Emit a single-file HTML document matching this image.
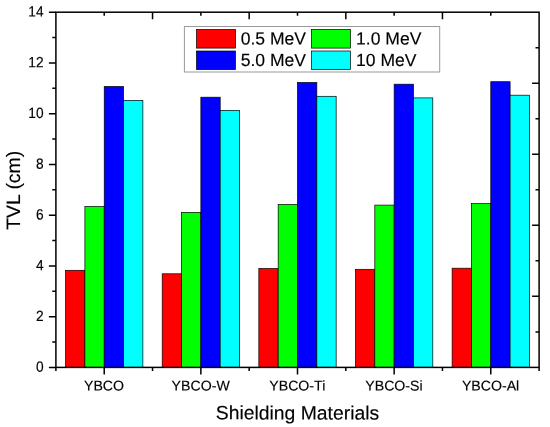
<!DOCTYPE html>
<html><head><meta charset="utf-8"><title>TVL chart</title>
<style>
html,body{margin:0;padding:0;background:#fff;}
svg{display:block;}
text{text-rendering:geometricPrecision;font-family:"Liberation Sans",Arial,sans-serif;fill:#000;stroke:#000;stroke-width:0.15px;}
.tk{font-size:13.7px;}
.ti{font-size:19px;}
.lg{font-size:17.55px;}
.tx{font-size:14.15px;}
.ty{font-size:19.35px;}
</style></head><body>
<svg width="550" height="427" viewBox="0 0 550 427">
<rect width="550" height="427" fill="#fff"/>
<g stroke="#000" stroke-width="0.7">
<rect x="65.56" y="270.30" width="19.33" height="97.10" fill="#ff0000"/>
<rect x="84.89" y="206.50" width="19.33" height="160.90" fill="#00ff00"/>
<rect x="104.22" y="86.50" width="19.33" height="280.90" fill="#0000ff"/>
<rect x="123.55" y="100.40" width="19.33" height="267.00" fill="#00ffff"/>
<rect x="162.20" y="273.80" width="19.33" height="93.60" fill="#ff0000"/>
<rect x="181.53" y="212.40" width="19.33" height="155.00" fill="#00ff00"/>
<rect x="200.86" y="97.20" width="19.33" height="270.20" fill="#0000ff"/>
<rect x="220.19" y="110.40" width="19.33" height="257.00" fill="#00ffff"/>
<rect x="258.84" y="268.50" width="19.33" height="98.90" fill="#ff0000"/>
<rect x="278.17" y="204.40" width="19.33" height="163.00" fill="#00ff00"/>
<rect x="297.50" y="82.50" width="19.33" height="284.90" fill="#0000ff"/>
<rect x="316.83" y="96.30" width="19.33" height="271.10" fill="#00ffff"/>
<rect x="355.48" y="269.30" width="19.33" height="98.10" fill="#ff0000"/>
<rect x="374.81" y="205.10" width="19.33" height="162.30" fill="#00ff00"/>
<rect x="394.14" y="84.20" width="19.33" height="283.20" fill="#0000ff"/>
<rect x="413.47" y="97.90" width="19.33" height="269.50" fill="#00ffff"/>
<rect x="452.12" y="268.20" width="19.33" height="99.20" fill="#ff0000"/>
<rect x="471.45" y="203.60" width="19.33" height="163.80" fill="#00ff00"/>
<rect x="490.78" y="81.70" width="19.33" height="285.70" fill="#0000ff"/>
<rect x="510.11" y="95.20" width="19.33" height="272.20" fill="#00ffff"/>
</g>
<g stroke="#000" stroke-width="1.5" fill="none" stroke-linecap="butt">
<rect x="55.9" y="12.2" width="483.20" height="355.20"/>
<path d="M55.90 367.40h-7 M55.90 342.03h-3.6 M55.90 316.66h-7 M55.90 291.29h-3.6 M55.90 265.91h-7 M55.90 240.54h-3.6 M55.90 215.17h-7 M55.90 189.80h-3.6 M55.90 164.43h-7 M55.90 139.06h-3.6 M55.90 113.69h-7 M55.90 88.31h-3.6 M55.90 62.94h-7 M55.90 37.57h-3.6 M55.90 12.20h-7 M539.10 331.88h-3.6 M539.10 296.36h-7 M539.10 260.84h-3.6 M539.10 225.32h-7 M539.10 189.80h-3.6 M539.10 154.28h-7 M539.10 118.76h-3.6 M539.10 83.24h-7 M539.10 47.72h-3.6 M55.90 367.40v3.6 M104.22 367.40v7 M152.54 367.40v3.6 M200.86 367.40v7 M249.18 367.40v3.6 M297.50 367.40v7 M345.82 367.40v3.6 M394.14 367.40v7 M442.46 367.40v3.6 M490.78 367.40v7 M539.10 367.40v3.6 M104.22 12.20v3.6 M152.54 12.20v7 M200.86 12.20v3.6 M249.18 12.20v7 M297.50 12.20v3.6 M345.82 12.20v7 M394.14 12.20v3.6 M442.46 12.20v7 M490.78 12.20v3.6"/>
</g>
<text class="tk" transform="translate(43.6 371.80) scale(1 1.08) rotate(0.03)" text-anchor="end">0</text>
<text class="tk" transform="translate(43.6 321.06) scale(1 1.08) rotate(0.03)" text-anchor="end">2</text>
<text class="tk" transform="translate(43.6 270.31) scale(1 1.08) rotate(0.03)" text-anchor="end">4</text>
<text class="tk" transform="translate(43.6 219.57) scale(1 1.08) rotate(0.03)" text-anchor="end">6</text>
<text class="tk" transform="translate(43.6 168.83) scale(1 1.08) rotate(0.03)" text-anchor="end">8</text>
<text class="tk" transform="translate(43.6 118.09) scale(1 1.08) rotate(0.03)" text-anchor="end">10</text>
<text class="tk" transform="translate(43.6 67.34) scale(1 1.08) rotate(0.03)" text-anchor="end">12</text>
<text class="tk" transform="translate(43.6 16.60) scale(1 1.08) rotate(0.03)" text-anchor="end">14</text>
<text class="tx" transform="translate(104.02 390.6) rotate(0.03)" text-anchor="middle">YBCO</text>
<text class="tx" transform="translate(200.66 390.6) rotate(0.03)" text-anchor="middle">YBCO-W</text>
<text class="tx" transform="translate(297.30 390.6) rotate(0.03)" text-anchor="middle">YBCO-Ti</text>
<text class="tx" transform="translate(393.94 390.6) rotate(0.03)" text-anchor="middle">YBCO-Si</text>
<text class="tx" transform="translate(490.58 390.6) rotate(0.03)" text-anchor="middle">YBCO-Al</text>
<text class="ty" transform="translate(297.50 419.4) rotate(0.03)" text-anchor="middle">Shielding Materials</text>
<text class="ty" transform="translate(19.7 190.3) rotate(-90)" text-anchor="middle">TVL (cm)</text>
<rect x="184.4" y="26.5" width="255.3" height="45.5" fill="#fff" stroke="#999" stroke-width="1"/>
<g stroke="#000" stroke-width="0.7">
<rect x="196.5" y="29.5" width="39" height="18.6" fill="#ff0000"/>
<rect x="196.5" y="51" width="39" height="18.6" fill="#0000ff"/>
<rect x="311.5" y="29.5" width="39" height="18.6" fill="#00ff00"/>
<rect x="311.5" y="51" width="39" height="18.6" fill="#00ffff"/>
</g>
<text class="lg" transform="translate(240.7 44.45) rotate(0.03)">0.5 MeV</text>
<text class="lg" transform="translate(240.7 66.1) rotate(0.03)">5.0 MeV</text>
<text class="lg" transform="translate(356.1 44.45) rotate(0.03)">1.0 MeV</text>
<text class="lg" transform="translate(356.1 66.1) rotate(0.03)">10 MeV</text>
</svg>
</body></html>
